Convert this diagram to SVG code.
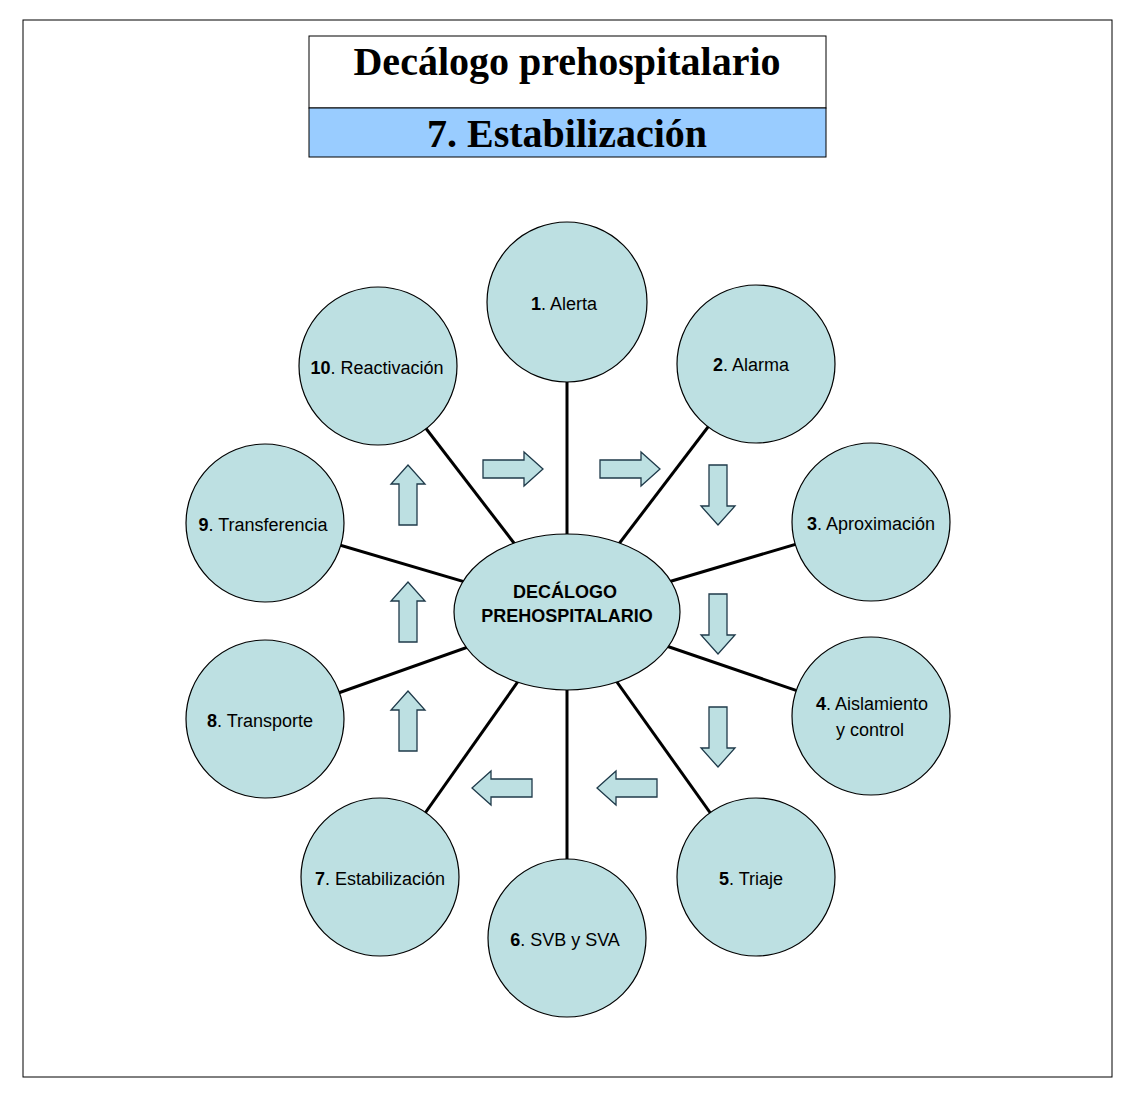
<svg xmlns="http://www.w3.org/2000/svg" width="1133" height="1096" viewBox="0 0 1133 1096">
<style>
.c{fill:#bde0e2;stroke:#000;stroke-width:1.2}
.t{font-family:"Liberation Sans",Arial,sans-serif;font-size:18px;text-anchor:middle;fill:#000}
.l{stroke:#000;stroke-width:3}
.a{fill:#bde0e2;stroke:#1f3a4a;stroke-width:1.3}
</style>
<defs>
<path id="ar" d="M-30,-9 H11 V-17 L30,0 L11,17 V9 H-30Z"/>
</defs>
<rect x="0" y="0" width="1133" height="1096" fill="#fff"/>
<rect x="23" y="20" width="1089" height="1057" fill="none" stroke="#000" stroke-width="1"/>
<g id="title">
<rect x="309" y="36" width="517" height="72" fill="#fff" stroke="#000"/>
<rect x="309" y="108" width="517" height="49" fill="#99ccff" stroke="#000"/>
<text x="567" y="75" font-family="Liberation Serif,serif" font-weight="bold" font-size="40" text-anchor="middle">Decálogo prehospitalario</text>
<text x="567" y="147" font-family="Liberation Serif,serif" font-weight="bold" font-size="40" text-anchor="middle">7. Estabilización</text>
</g>
<g id="connectors">
<line class="l" x1="567" y1="612" x2="567" y2="302"/>
<line class="l" x1="567" y1="612" x2="756" y2="364"/>
<line class="l" x1="567" y1="612" x2="871" y2="522"/>
<line class="l" x1="567" y1="612" x2="871" y2="716"/>
<line class="l" x1="567" y1="612" x2="756" y2="877"/>
<line class="l" x1="567" y1="612" x2="567" y2="938"/>
<line class="l" x1="567" y1="612" x2="380" y2="877"/>
<line class="l" x1="567" y1="612" x2="265" y2="719"/>
<line class="l" x1="567" y1="612" x2="265" y2="523"/>
<line class="l" x1="567" y1="612" x2="378" y2="366"/>
<use href="#ar" class="a" transform="translate(513,469)"/>
<use href="#ar" class="a" transform="translate(630,469)"/>
<use href="#ar" class="a" transform="translate(718,495) rotate(90)"/>
<use href="#ar" class="a" transform="translate(718,624) rotate(90)"/>
<use href="#ar" class="a" transform="translate(718,737) rotate(90)"/>
<use href="#ar" class="a" transform="translate(627,788) rotate(180)"/>
<use href="#ar" class="a" transform="translate(502,788) rotate(180)"/>
<use href="#ar" class="a" transform="translate(408,721) rotate(-90)"/>
<use href="#ar" class="a" transform="translate(408,612) rotate(-90)"/>
<use href="#ar" class="a" transform="translate(408,495) rotate(-90)"/>
</g>
<g id="center"><ellipse class="c" cx="567" cy="612" rx="113" ry="78"/>
<text class="t" x="565" y="598" font-weight="bold">DECÁLOGO</text><text class="t" x="567" y="622" font-weight="bold">PREHOSPITALARIO</text></g>
<g id="n1"><circle class="c" cx="567" cy="302" r="80"/><text class="t" x="564" y="310"><tspan font-weight="bold">1</tspan>. Alerta</text></g>
<g id="n2"><circle class="c" cx="756" cy="364" r="79"/><text class="t" x="751" y="371"><tspan font-weight="bold">2</tspan>. Alarma</text></g>
<g id="n3"><circle class="c" cx="871" cy="522" r="79"/><text class="t" x="871" y="530"><tspan font-weight="bold">3</tspan>. Aproximación</text></g>
<g id="n4"><circle class="c" cx="871" cy="716" r="79"/><text class="t" x="872" y="710"><tspan font-weight="bold">4</tspan>. Aislamiento</text><text class="t" x="870" y="736">y control</text></g>
<g id="n5"><circle class="c" cx="756" cy="877" r="79"/><text class="t" x="751" y="885"><tspan font-weight="bold">5</tspan>. Triaje</text></g>
<g id="n6"><circle class="c" cx="567" cy="938" r="79"/><text class="t" x="565" y="946"><tspan font-weight="bold">6</tspan>. SVB y SVA</text></g>
<g id="n7"><circle class="c" cx="380" cy="877" r="79"/><text class="t" x="380" y="885"><tspan font-weight="bold">7</tspan>. Estabilización</text></g>
<g id="n8"><circle class="c" cx="265" cy="719" r="79"/><text class="t" x="260" y="727"><tspan font-weight="bold">8</tspan>. Transporte</text></g>
<g id="n9"><circle class="c" cx="265" cy="523" r="79"/><text class="t" x="263" y="531"><tspan font-weight="bold">9</tspan>. Transferencia</text></g>
<g id="n10"><circle class="c" cx="378" cy="366" r="79"/><text class="t" x="377" y="374"><tspan font-weight="bold">10</tspan>. Reactivación</text></g>
</svg>
